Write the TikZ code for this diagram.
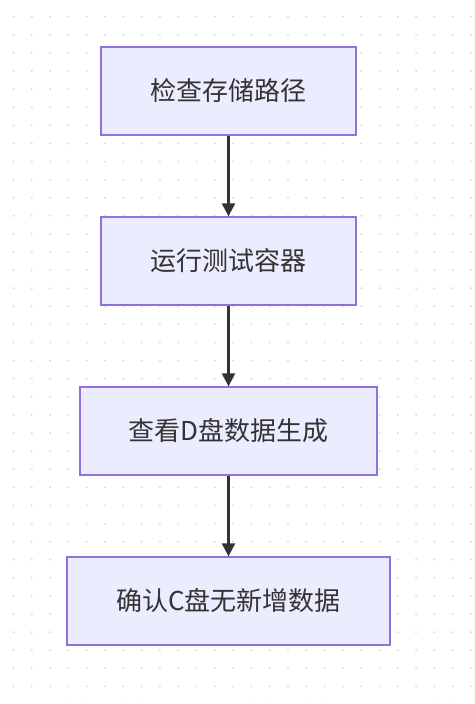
\documentclass[tikz,border=0pt]{standalone}
\usepackage{fontspec}
\setmainfont{Noto Sans CJK SC}
\usetikzlibrary{arrows.meta}
\definecolor{boxfill}{HTML}{ECECFF}
\definecolor{boxline}{HTML}{9370DB}
\definecolor{txt}{HTML}{333333}
\definecolor{dotc}{HTML}{D6D6D6}
\tikzset{
  flowbox/.style={draw=boxline, fill=boxfill, line width=1.3pt, minimum height=88pt, inner sep=0pt, text=txt, font=\fontsize{26}{30}\selectfont},
  flowarrow/.style={draw=txt, line width=2.2pt, -{Triangle[length=13pt,width=13pt]}}
}
\begin{document}
\begin{tikzpicture}[x=1pt,y=-1pt]
\fill[white] (0,0) rectangle (474,704);
\useasboundingbox (0,0) rectangle (474,704);
\foreach \i in {0,...,25}{
  \foreach \j in {0,...,38}{
    \fill[dotc] ({13.5+18.3*\i},{16.7+18.1*\j}) circle (1);
  }
}
\node[flowbox, minimum width=255pt] (a) at (228.5,91) {检查存储路径};
\node[flowbox, minimum width=255pt] (b) at (228.5,261) {运行测试容器};
\node[flowbox, minimum width=297pt] (c) at (228.5,431) {查看D盘数据生成};
\node[flowbox, minimum width=323pt] (d) at (228.5,601) {确认C盘无新增数据};
\draw[flowarrow] (a.south) -- (b.north);
\draw[flowarrow] (b.south) -- (c.north);
\draw[flowarrow] (c.south) -- (d.north);
\end{tikzpicture}
\end{document}
